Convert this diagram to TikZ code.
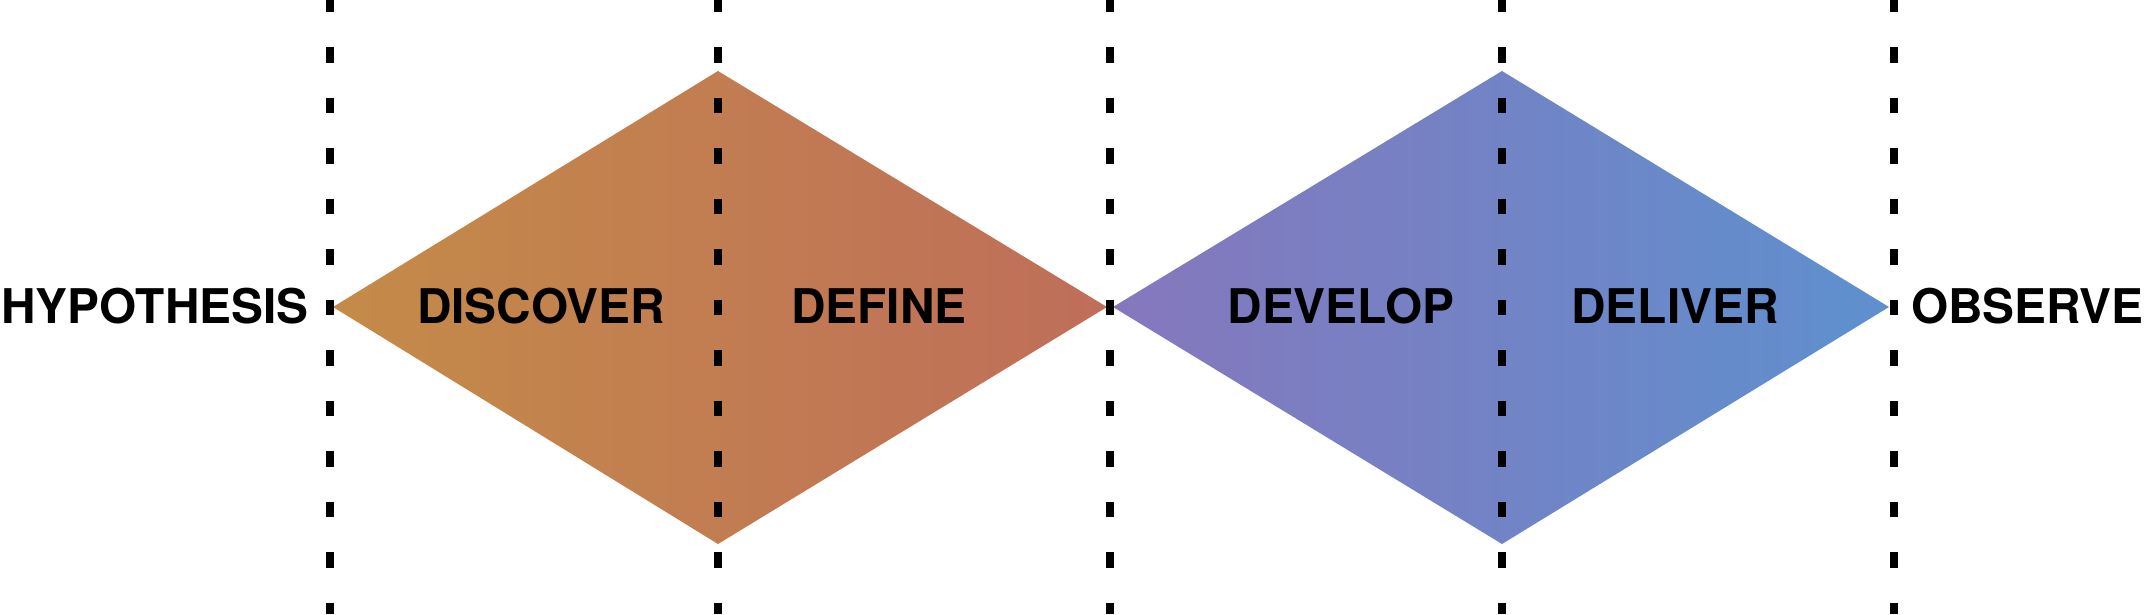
\documentclass[tikz,border=0pt]{standalone}
\usepackage{fontspec}
\setmainfont{TeX Gyre Heros}
\definecolor{discoverleft}{HTML}{C48B48}
\definecolor{defineright}{HTML}{BF6E5A}
\definecolor{developleft}{HTML}{8677BD}
\definecolor{deliverright}{HTML}{5E90CE}
\begin{document}
\begin{tikzpicture}[thick,
	phase/.style={font=\bfseries\fontsize{13.6}{16}\selectfont,inner sep=0pt,anchor=base},
	divider/.style={draw=black,line width=0.075cm,dash pattern=on 0.155cm off 0.35cm}]
			\useasboundingbox (0,0) rectangle (21.47,6.14);
			\begin{scope}
				\shade[left color=discoverleft,right color=defineright] (3.33,3.07)--(7.18,5.43)--(11.07,3.07)--(7.18,0.70)--cycle;
				\shade[left color=developleft,right color=deliverright] (11.13,3.07)--(15.02,5.43)--(18.89,3.07)--(15.02,0.70)--cycle;
			\end{scope}
			%			dividers
			\foreach \x in {3.30,7.18,11.10,15.02,18.94}
				\path[divider] (\x,6.175)--(\x,0);
			\begin{scope}
				\node[phase,anchor=base west] (hyp) at (0,2.91) {HYPOTHESIS};
				\node[phase] (disc) at (5.41,2.91) {DISCOVER};
				\node[phase] (defi) at (8.79,2.91) {DEFINE};
				\node[phase] (devel) at (13.41,2.91) {DEVELOP};
				\node[phase] (deliv) at (16.75,2.91) {DELIVER};
				\node[phase,anchor=base east] (obs) at (21.45,2.91) {OBSERVE};
			\end{scope}
		\end{tikzpicture}
\end{document}
